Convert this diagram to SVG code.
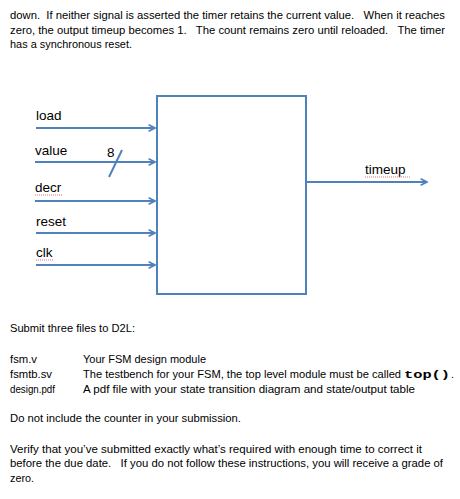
<svg xmlns="http://www.w3.org/2000/svg" width="460" height="499" viewBox="0 0 460 499">
<style>
.t{font-family:"Liberation Sans",Arial,sans-serif;font-size:10.5px;fill:#000;white-space:pre}
.l{font-family:"Liberation Sans",Arial,sans-serif;font-size:13.5px;fill:#000}
.w{stroke:#4F81BD;stroke-width:2;fill:none}
.sq{stroke:#E05050;stroke-width:0.8;fill:none;stroke-dasharray:1 1}
.m{font-family:"Liberation Mono","DejaVu Sans Mono",monospace;font-weight:bold}
</style>
<defs>
<marker id="ah" viewBox="0 0 10 10" refX="9" refY="5" markerWidth="4" markerHeight="4" orient="auto" markerUnits="strokeWidth">
<path d="M1,1 L9,5 L1,9" fill="none" stroke="#4F81BD" stroke-width="2"/>
</marker>
</defs>
<rect width="460" height="499" fill="#fff"/>
<g id="text-top">
<text class="t" x="10" y="19" textLength="435" lengthAdjust="spacingAndGlyphs">down.  If neither signal is asserted the timer retains the current value.   When it reaches</text>
<text class="t" x="10" y="34" textLength="435" lengthAdjust="spacingAndGlyphs">zero, the output timeup becomes 1.   The count remains zero until reloaded.   The timer</text>
<text class="t" x="10" y="48" textLength="122" lengthAdjust="spacingAndGlyphs">has a synchronous reset.</text>
</g>
<g id="block">
<rect x="157" y="96" width="149" height="198" class="w"/>
</g>
<g id="connectors">
<line x1="36" y1="128" x2="155" y2="128" class="w" marker-end="url(#ah)"/>
<line x1="35" y1="162" x2="155" y2="162" class="w" marker-end="url(#ah)"/>
<line x1="109" y1="177" x2="122" y2="150" class="w" stroke-width="1.5"/>
<line x1="35" y1="201" x2="155" y2="201" class="w" marker-end="url(#ah)"/>
<line x1="36" y1="233" x2="155" y2="233" class="w" marker-end="url(#ah)"/>
<line x1="36" y1="265" x2="155" y2="265" class="w" marker-end="url(#ah)"/>
<line x1="306" y1="182" x2="427" y2="182" class="w" marker-end="url(#ah)"/>
</g>
<g id="labels">
<text class="l" x="36" y="120">load</text>
<text class="l" x="35" y="155">value</text>
<text class="l" x="107" y="157">8</text>
<text class="l" x="35" y="192">decr</text>
<path class="sq" d="M35,195 H63"/>
<text class="l" x="36" y="226">reset</text>
<text class="l" x="36" y="257">clk</text>
<path class="sq" d="M36,260 H54"/>
<text class="l" x="365" y="174">timeup</text>
<path class="sq" d="M365,177 H411"/>
</g>
<g id="text-bottom">
<text class="t" x="10" y="332" textLength="125" lengthAdjust="spacingAndGlyphs">Submit three files to D2L:</text>
<text class="t" x="10" y="363" textLength="27" lengthAdjust="spacingAndGlyphs">fsm.v</text>
<text class="t" x="83" y="363" textLength="123" lengthAdjust="spacingAndGlyphs">Your FSM design module</text>
<text class="t" x="10" y="378" textLength="42" lengthAdjust="spacingAndGlyphs">fsmtb.sv</text>
<text class="t" x="83" y="378" textLength="318" lengthAdjust="spacingAndGlyphs">The testbench for your FSM, the top level module must be called</text>
<text class="t m" x="404" y="378" textLength="46" lengthAdjust="spacingAndGlyphs">top()</text>
<text class="t" x="451" y="378">.</text>
<text class="t" x="10" y="393" textLength="45" lengthAdjust="spacingAndGlyphs">design.pdf</text>
<text class="t" x="83" y="393" textLength="332" lengthAdjust="spacingAndGlyphs">A pdf file with your state transition diagram and state/output table</text>
<text class="t" x="10" y="422" textLength="231" lengthAdjust="spacingAndGlyphs">Do not include the counter in your submission.</text>
<text class="t" x="10" y="453" textLength="412" lengthAdjust="spacingAndGlyphs">Verify that you’ve submitted exactly what’s required with enough time to correct it</text>
<text class="t" x="10" y="467" textLength="433" lengthAdjust="spacingAndGlyphs">before the due date.   If you do not follow these instructions, you will receive a grade of</text>
<text class="t" x="10" y="482" textLength="24" lengthAdjust="spacingAndGlyphs">zero.</text>
</g>
</svg>
